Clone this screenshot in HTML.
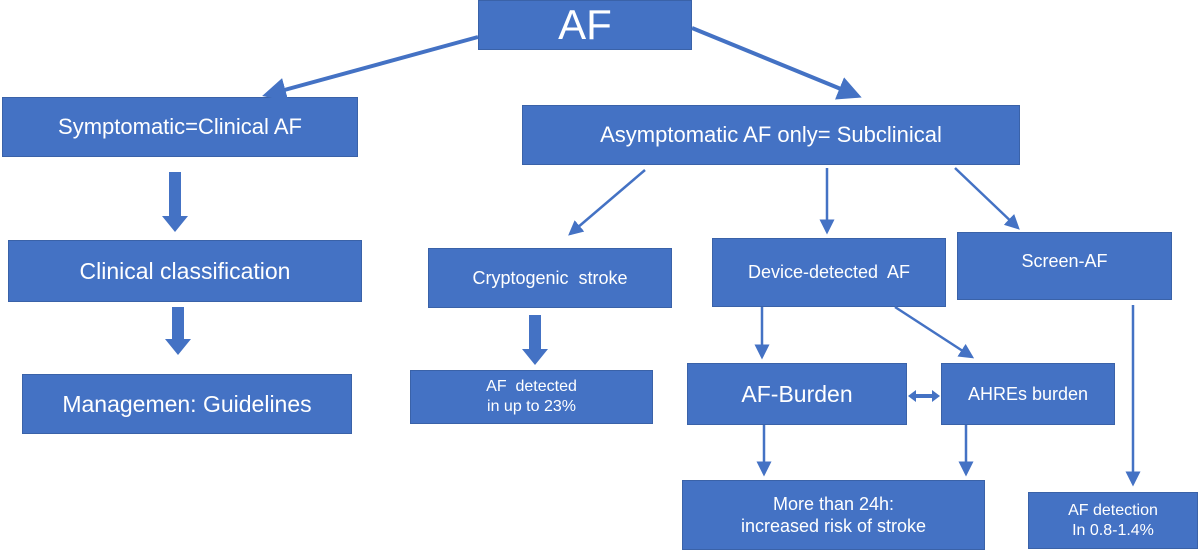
<!DOCTYPE html>
<html><head><style>
body{margin:0;width:1200px;height:558px;background:#fff;position:relative;overflow:hidden;font-family:"Liberation Sans",sans-serif}
.b{position:absolute;background:#4472C4;border:1px solid #3a62a8;color:#fff;display:flex;align-items:center;justify-content:center;text-align:center;box-sizing:border-box;line-height:1.25}
svg{position:absolute;left:0;top:0}
</style></head><body>
<div class="b" style="left:478px;top:0;width:214px;height:50px;font-size:42px">AF</div>
<div class="b" style="left:2px;top:97px;width:356px;height:60px;font-size:22px">Symptomatic=Clinical AF</div>
<div class="b" style="left:8px;top:240px;width:354px;height:62px;font-size:23px">Clinical classification</div>
<div class="b" style="left:22px;top:374px;width:330px;height:60px;font-size:23px">Managemen: Guidelines</div>
<div class="b" style="left:522px;top:105px;width:498px;height:60px;font-size:22px">Asymptomatic AF only= Subclinical</div>
<div class="b" style="left:428px;top:248px;width:244px;height:60px;font-size:18px">Cryptogenic&nbsp; stroke</div>
<div class="b" style="left:712px;top:238px;width:234px;height:69px;font-size:18px">Device-detected&nbsp; AF</div>
<div class="b" style="left:957px;top:232px;width:215px;height:68px;font-size:18px;padding-bottom:10px">Screen-AF</div>
<div class="b" style="left:410px;top:370px;width:243px;height:54px;font-size:16px">AF&nbsp; detected<br>in up to 23%</div>
<div class="b" style="left:687px;top:363px;width:220px;height:62px;font-size:23px">AF-Burden</div>
<div class="b" style="left:941px;top:363px;width:174px;height:62px;font-size:18px">AHREs burden</div>
<div class="b" style="left:682px;top:480px;width:303px;height:70px;font-size:18px">More than 24h:<br>increased risk of stroke</div>
<div class="b" style="left:1028px;top:492px;width:170px;height:57px;font-size:16px">AF detection<br>In 0.8-1.4%</div>
<svg width="1200" height="558">
<defs><marker id="a" markerWidth="6" markerHeight="6" refX="5" refY="3" orient="auto" markerUnits="strokeWidth"><path d="M0,0L6,3L0,6z" fill="#4472C4"/></marker></defs>
<g stroke="#4472C4" fill="none" marker-end="url(#a)">
<line x1="478" y1="37" x2="266" y2="95" stroke-width="4"/>
<line x1="692" y1="28" x2="858" y2="96" stroke-width="4"/>
<line x1="645" y1="170" x2="570" y2="234" stroke-width="2.5"/>
<line x1="827" y1="168" x2="827" y2="232" stroke-width="2.5"/>
<line x1="955" y1="168" x2="1018" y2="228" stroke-width="2.5"/>
<line x1="762" y1="307" x2="762" y2="357" stroke-width="2.5"/>
<line x1="895" y1="307" x2="972" y2="357" stroke-width="2.5"/>
<line x1="764" y1="425" x2="764" y2="474" stroke-width="2.5"/>
<line x1="966" y1="425" x2="966" y2="474" stroke-width="2.5"/>
<line x1="1133" y1="305" x2="1133" y2="484" stroke-width="2.5"/>
</g>
<g fill="#4472C4">
<path d="M169,172h12v44h7l-13,16l-13,-16h7z"/>
<path d="M172,307h12v32h7l-13,16l-13,-16h7z"/>
<path d="M529,315h12v34h7l-13,16l-13,-16h7z"/>
<path d="M908,396l8,-6v4h16v-4l8,6l-8,6v-4h-16v4z"/>
</g>
</svg>
</body></html>
